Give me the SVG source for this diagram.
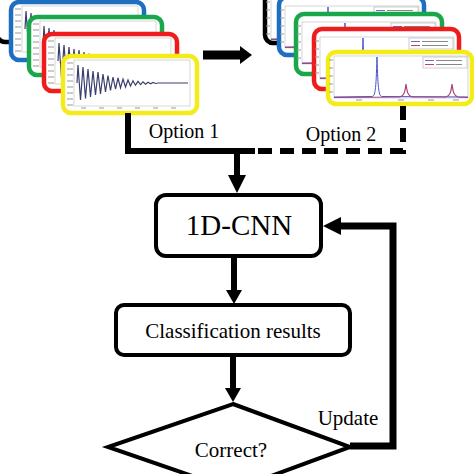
<svg xmlns="http://www.w3.org/2000/svg" xmlns:xlink="http://www.w3.org/1999/xlink" width="474" height="474" viewBox="0 0 474 474">
<style>
.frame{fill:#fff;stroke-width:4.5}
.box{fill:#fff;stroke:#000;stroke-width:4}
.lbl{font-family:"Liberation Serif","Times New Roman",serif;fill:#000;text-anchor:middle}
.line{fill:none;stroke:#000;stroke-width:6}
.ax{fill:none;stroke:#bbb;stroke-width:0.6}
.tick{stroke:#999;stroke-width:1}
</style>
<defs>
<g id="wave">
<rect class="ax" x="11" y="4" width="116" height="46"/>
<path class="tick" d="M4,7h6M4,13h6M4,19h6M4,25h6M4,31h6M4,37h6M4,43h6M4,49h6M18,52h5M36,52h5M54,52h5M72,52h5M90,52h5M108,52h5"/>
<polyline fill="none" stroke="#3b3f6e" stroke-width="1.2" points="14,27 15,9 17.5,44 20,11 22.5,42.5 25,13 27.5,41 30,15 32.5,39 35,16 37.5,38 40,18 42.5,36 45,19.5 47.5,34.5 50,21 52.5,33 55,22 57.5,32 60,23 62.5,31 65,24 67.5,30 70,24.8 72.5,29.2 75,25.4 77.5,28.6 80,25.8 82.5,28.2 85,26.2 87.5,27.8 90,26.5 92.5,27.5 95,27 125,27"/>
</g>
<g id="spec">
<rect class="ax" x="6" y="4" width="134" height="42"/>
<path class="tick" d="M1,8h4M1,16h4M1,24h4M1,32h4M1,40h4M28,48h6M70,48h6M100,48h6M125,48h6"/>
<rect x="95" y="5" width="44" height="11" fill="#fff" stroke="#aaa" stroke-width="0.6"/>
<path d="M97,8.5h9" stroke="#6a6ad0" stroke-width="1"/>
<path d="M97,12.5h9" stroke="#c0406a" stroke-width="1"/>
<path d="M108,8.5h26M108,12.5h26" stroke="#888" stroke-width="1.2"/>
<path d="M6,45 L44,44.5 C47,44 48,40 49,5 C50,40 51,44 54,44.5 L140,45" fill="none" stroke="#4a55c8" stroke-width="1"/>
<path d="M6,45.5 L72,45 C76,44 77,40 78,32 C79,40 80,44 84,45 L118,45 C122,44 123,40 124,32 C125,40 126,44 130,45 L140,45.5" fill="none" stroke="#a8407a" stroke-width="1.2"/>
</g>
</defs>
<rect width="474" height="474" fill="#fff"/>

<g id="stack-time">
<rect class="frame" stroke="#000" x="-3" y="-15" width="135" height="57" rx="8"/>
<rect class="frame" stroke="#1f6fc0" x="11" y="2" width="133" height="58" rx="8"/>
<use xlink:href="#wave" x="11" y="2"/>
<rect class="frame" stroke="#1aa64a" x="29" y="17" width="133" height="58" rx="8"/>
<use xlink:href="#wave" x="29" y="17"/>
<rect class="frame" stroke="#ee1c1c" x="44" y="34" width="133" height="57" rx="8"/>
<use xlink:href="#wave" x="44" y="34"/>
<rect class="frame" stroke="#f3ec1a" x="63" y="56" width="134" height="57" rx="8"/>
<use xlink:href="#wave" x="63" y="56"/>
</g>

<g id="stack-freq">
<rect class="frame" stroke="#000" x="265" y="-15" width="140" height="58" rx="8"/>
<use xlink:href="#spec" x="265" y="-6"/>
<rect class="frame" stroke="#1f6fc0" x="279" y="-3" width="145" height="58" rx="8"/>
<use xlink:href="#spec" x="279" y="2"/>
<rect class="frame" stroke="#1aa64a" x="296" y="14" width="146" height="60" rx="8"/>
<use xlink:href="#spec" x="296" y="18"/>
<rect class="frame" stroke="#ee1c1c" x="314" y="29" width="145" height="60" rx="8"/>
<use xlink:href="#spec" x="314" y="33"/>
<rect class="frame" stroke="#f3ec1a" x="328" y="52" width="144" height="52" rx="8"/>
<use xlink:href="#spec" x="328" y="52"/>
</g>

<g id="connectors">
<path d="M203,55 H241" stroke="#000" stroke-width="9"/>
<polygon points="240,46 252,55 240,64" fill="#000"/>
<path class="line" d="M128,113 V151 H255"/>
<path class="line" d="M403,106 V151 H255" stroke-dasharray="14 8"/>
<path class="line" d="M237,151 V177"/>
<polygon points="228,175 246,175 237,193" fill="#000"/>
<path class="line" d="M234,257 V292"/>
<polygon points="226,290 242,290 234,304" fill="#000"/>
<path class="line" d="M233,355 V390"/>
<polygon points="225,388 241,388 233,402" fill="#000"/>
<path d="M350,446 H393 V226 H339" fill="none" stroke="#000" stroke-width="7"/>
<polygon points="341,217 341,235 323,226" fill="#000"/>
</g>

<g id="node-cnn">
<rect class="box" x="156" y="195" width="165" height="61" rx="10"/>
<text class="lbl" x="239" y="235" font-size="29">1D-CNN</text>
</g>
<g id="node-classification">
<rect class="box" x="116" y="305" width="234" height="50" rx="8"/>
<text class="lbl" x="233" y="338" font-size="21">Classification results</text>
</g>
<g id="node-decision">
<polygon class="box" points="233,404 350,447 233,490 108,447"/>
<text class="lbl" x="231" y="457" font-size="21">Correct?</text>
</g>
<g id="labels">
<text class="lbl" x="184" y="138" font-size="20">Option 1</text>
<text class="lbl" x="341" y="141" font-size="20">Option 2</text>
<text class="lbl" x="348" y="425" font-size="21">Update</text>
</g>
</svg>
